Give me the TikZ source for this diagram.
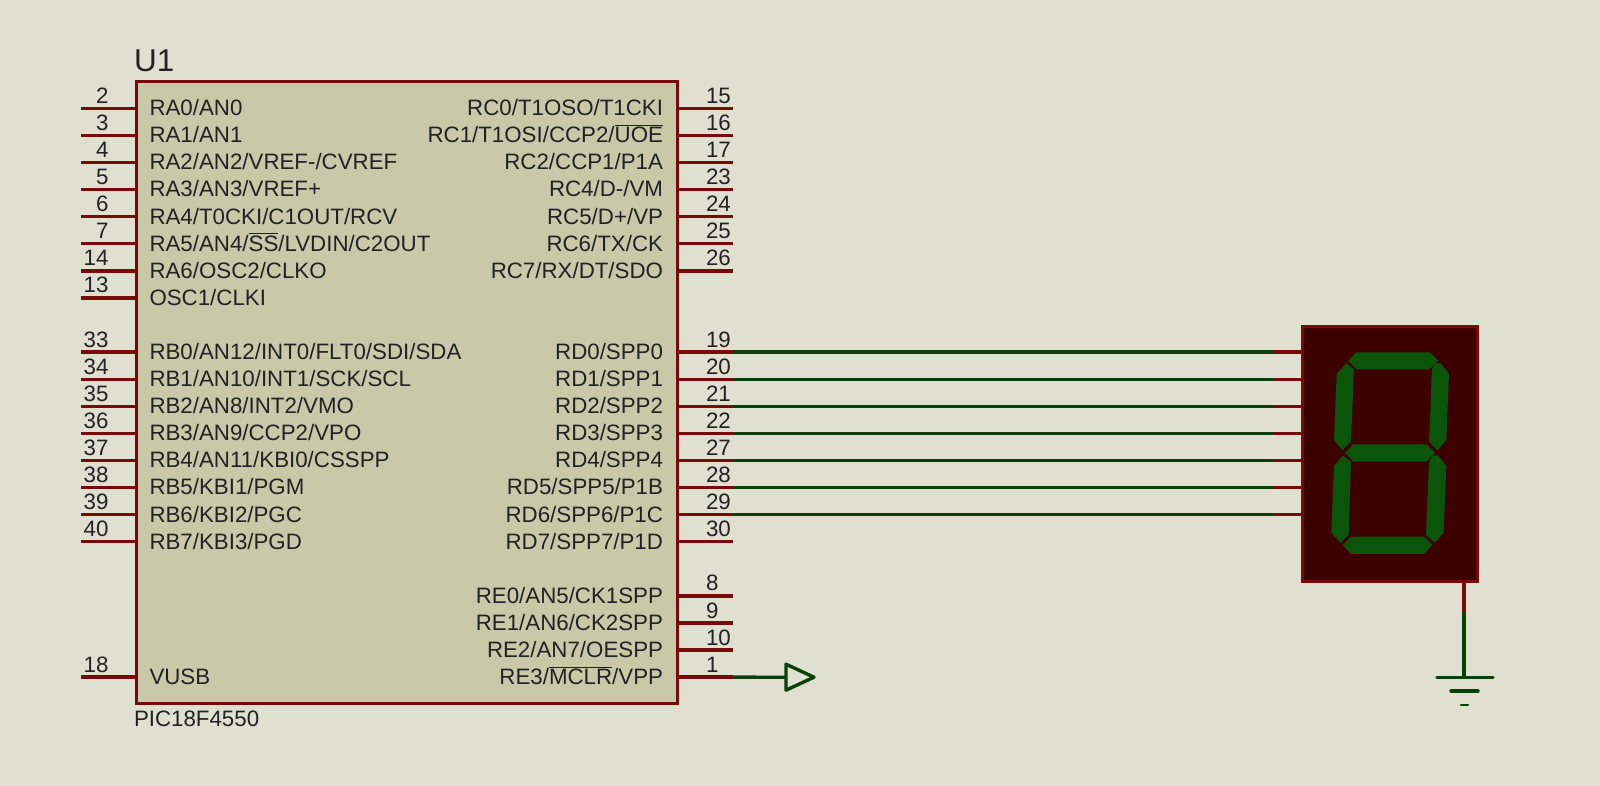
\documentclass[tikz,border=0pt]{standalone}
\usepackage{fontspec}
\setmainfont{Liberation Sans}
\definecolor{bgc}{HTML}{DFE0CF}
\definecolor{bodyc}{HTML}{C9C9A9}
\definecolor{redc}{HTML}{780A0A}
\definecolor{wirec}{HTML}{0B400B}
\definecolor{dispc}{HTML}{3C0000}
\definecolor{segc}{HTML}{0B550B}
\definecolor{txtc}{HTML}{222222}
\newcommand\ovl[1]{\leavevmode\vbox{\hrule height 1pt \kern 1.5pt \hbox{#1}}}
\tikzset{
  x=1pt,y=-1pt,
  pinline/.style={draw=redc,line width=3.4pt},
  wire/.style={draw=wirec,line width=3.4pt},
  pintext/.style={font=\fontsize{22.3}{22.3}\selectfont,text=txtc,inner sep=0pt,outer sep=0pt},
  seg/.style={fill=segc,draw=none},
}
\newcommand\PY[1]{\pgfmathsetmacro\py{108.3+27.09*(#1)}}
\newcommand\lpin[3]{%
  \PY{#1}
  \coordinate (lo#1) at (81,\py);
  \coordinate (li#1) at (136,\py);
  \draw[pinline] (lo#1) -- (li#1);
  \node[pintext,anchor=base east] (ln#1) at (108.5,\py-5) {#2};
  \node[pintext,anchor=base west] (lt#1) at (149.5,\py+7.4) {#3};
}
\newcommand\rpin[3]{%
  \PY{#1}
  \coordinate (ro#1) at (733,\py);
  \coordinate (ri#1) at (677,\py);
  \draw[pinline] (ri#1) -- (ro#1);
  \node[pintext,anchor=base west] (rn#1) at (706,\py-5) {#2};
  \node[pintext,anchor=base east] (rt#1) at (663,\py+7.4) {#3};
}
\newcommand\dpin[1]{%
  \PY{#1+9}
  \coordinate (dj#1) at (1273,\py);
  \coordinate (dp#1) at (1302,\py);
}
\begin{document}
\begin{tikzpicture}
\useasboundingbox (0,0) rectangle (1600,786);
\fill[bgc] (0,0) rectangle (1600,786);
% microcontroller body
\node[draw=redc,fill=bodyc,line width=3.5pt,outer sep=0pt,minimum width=541pt,minimum height=622pt,inner sep=0pt,anchor=north west] (u1) at (136.5,81.7) {};
\node[inner sep=0pt,anchor=base west,font=\fontsize{31.5}{31.5}\selectfont,text=txtc] (u1name) at (134,71.7) {U1};
\node[pintext,anchor=base west] (u1part) at (134,726) {PIC18F4550};
% left pins
\lpin{0}{2}{RA0/AN0}
\lpin{1}{3}{RA1/AN1}
\lpin{2}{4}{RA2/AN2/VREF-/CVREF}
\lpin{3}{5}{RA3/AN3/VREF+}
\lpin{4}{6}{RA4/T0CKI/C1OUT/RCV}
\lpin{5}{7}{RA5/AN4/\ovl{SS}/LVDIN/C2OUT}
\lpin{6}{14}{RA6/OSC2/CLKO}
\lpin{7}{13}{OSC1/CLKI}
\lpin{9}{33}{RB0/AN12/INT0/FLT0/SDI/SDA}
\lpin{10}{34}{RB1/AN10/INT1/SCK/SCL}
\lpin{11}{35}{RB2/AN8/INT2/VMO}
\lpin{12}{36}{RB3/AN9/CCP2/VPO}
\lpin{13}{37}{RB4/AN11/KBI0/CSSPP}
\lpin{14}{38}{RB5/KBI1/PGM}
\lpin{15}{39}{RB6/KBI2/PGC}
\lpin{16}{40}{RB7/KBI3/PGD}
\lpin{21}{18}{VUSB}
% right pins
\rpin{0}{15}{RC0/T1OSO/T1CKI}
\rpin{1}{16}{RC1/T1OSI/CCP2/\ovl{UOE}}
\rpin{2}{17}{RC2/CCP1/P1A}
\rpin{3}{23}{RC4/D-/VM}
\rpin{4}{24}{RC5/D+/VP}
\rpin{5}{25}{RC6/TX/CK}
\rpin{6}{26}{RC7/RX/DT/SDO}
\rpin{9}{19}{RD0/SPP0}
\rpin{10}{20}{RD1/SPP1}
\rpin{11}{21}{RD2/SPP2}
\rpin{12}{22}{RD3/SPP3}
\rpin{13}{27}{RD4/SPP4}
\rpin{14}{28}{RD5/SPP5/P1B}
\rpin{15}{29}{RD6/SPP6/P1C}
\rpin{16}{30}{RD7/SPP7/P1D}
\rpin{18}{8}{RE0/AN5/CK1SPP}
\rpin{19}{9}{RE1/AN6/CK2SPP}
\rpin{20}{10}{RE2/AN7/OESPP}
\rpin{21}{1}{RE3/\ovl{MCLR}/VPP}
% display
\node[draw=redc,fill=dispc,line width=3.5pt,outer sep=0pt,minimum width=175pt,minimum height=255pt,inner sep=0pt,anchor=north west] (disp) at (1302.5,326.5) {};
\begin{scope}[shift={(1240,300)},x=0.3333pt,y=-0.3333pt]
\fill[seg] (348,157)--(570,157)--(595,182)--(568,208)--(350,208)--(325,183)--cycle;
\fill[seg] (586,190)--(603,190)--(627,222)--(619,420)--(592,451)--(567,425)--(576,208)--cycle;
\fill[seg] (318,190)--(342,208)--(333,425)--(307,451)--(282,420)--(290,222)--cycle;
\fill[seg] (340,433)--(560,433)--(585,458)--(560,485)--(340,485)--(316,458)--cycle;
\fill[seg] (308,467)--(333,485)--(326,705)--(301,728)--(274,698)--(282,498)--cycle;
\fill[seg] (578,467)--(595,467)--(619,498)--(611,698)--(585,728)--(558,705)--(567,485)--cycle;
\fill[seg] (333,710)--(552,710)--(577,735)--(552,762)--(333,762)--(309,735)--cycle;
\end{scope}
% display pins and wires
\foreach \k in {0,...,6}{\dpin{\k}
  \pgfmathtruncatemacro\r{\k+9}
  \draw[pinline] (dj\k) -- (dp\k);
  \draw[wire] (ro\r) -- (dj\k);
}
% output terminal
\coordinate (tip) at (786,677.2);
\draw[wire] (ro21) -- (tip);
\draw[wire,line join=round] (786,664.2) -- (814,677.2) -- (786,690.2) -- cycle;
% ground
\coordinate (gtop) at (1464,583);
\coordinate (gbar) at (1464,677);
\draw[pinline] (gtop) -- (1464,612);
\draw[wire] (1464,612) -- (gbar);
\draw[wire,line cap=round] (1437,677.3) -- (1493,677.3);
\draw[wire,line cap=round] (1451,691) -- (1478,691);
\draw[wire,line cap=round,line width=2.5pt] (1461,705) -- (1468,705);
\end{tikzpicture}
\end{document}
